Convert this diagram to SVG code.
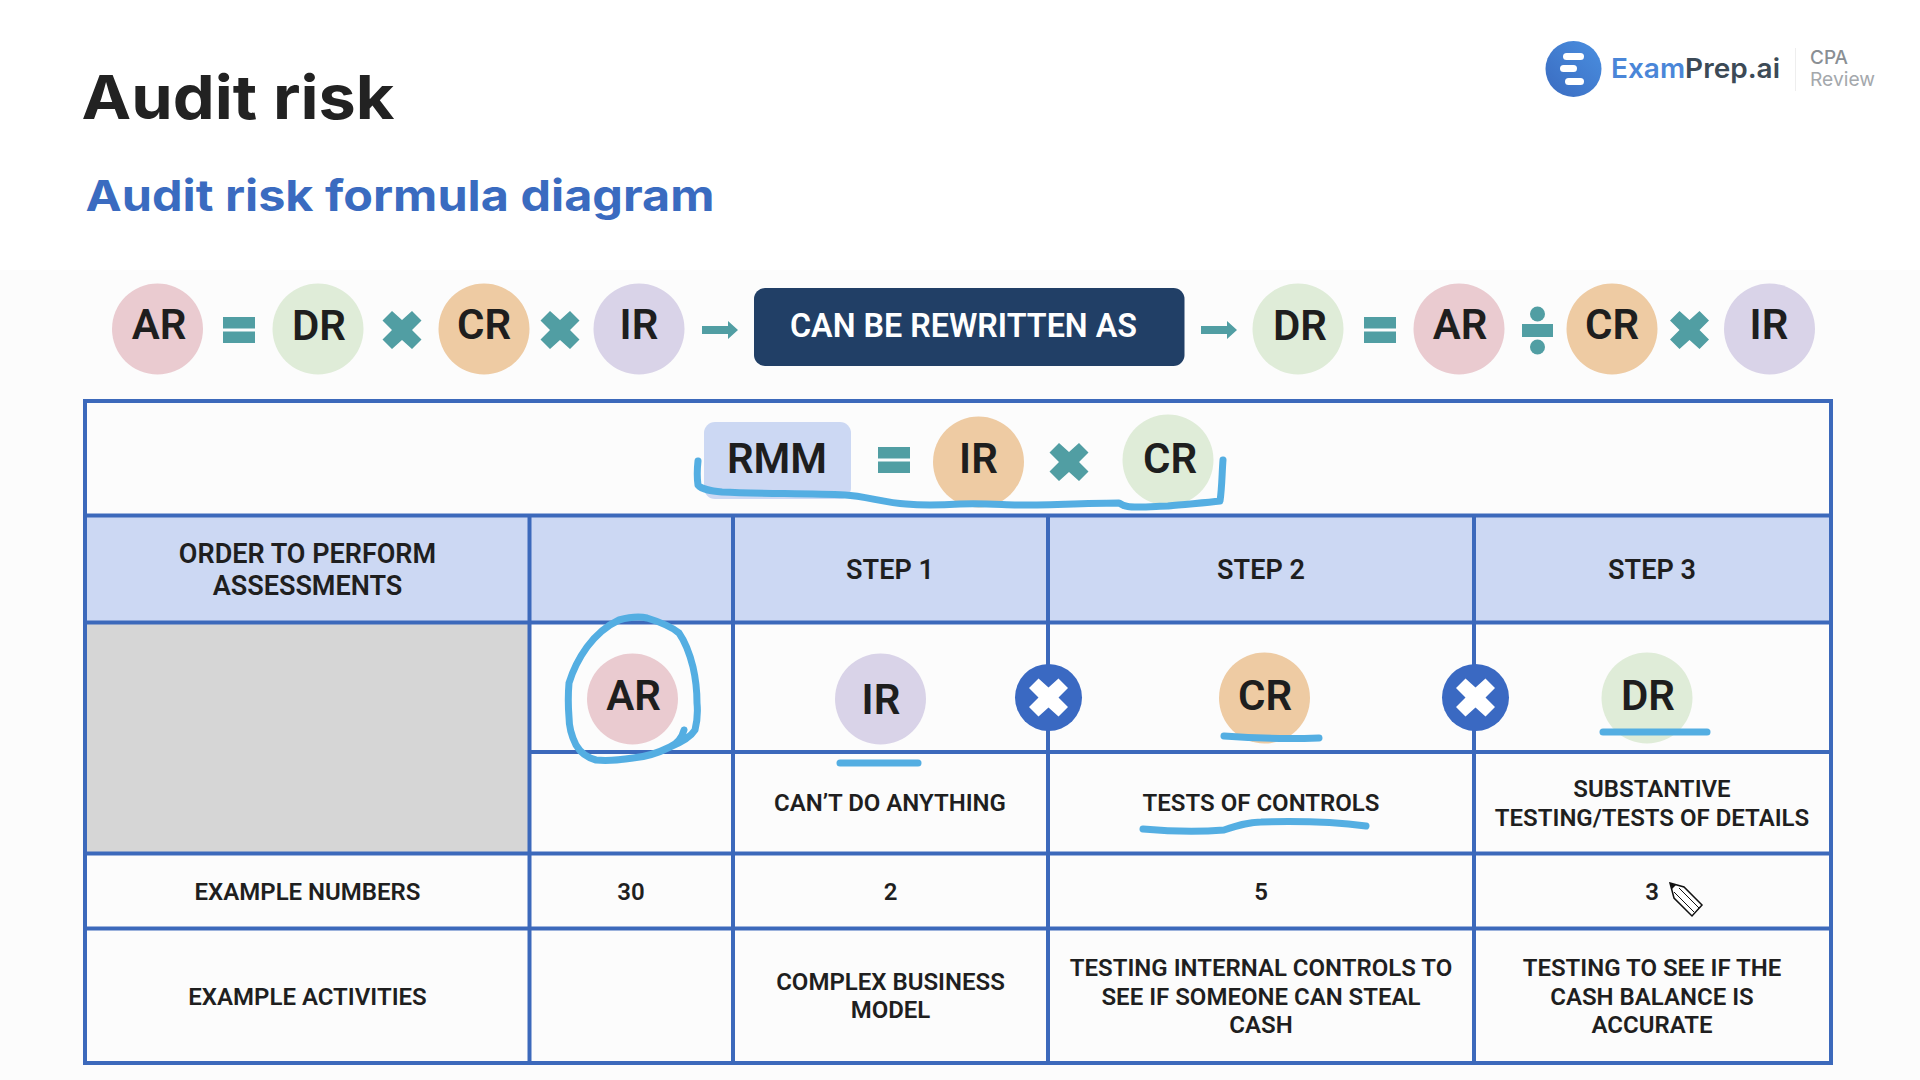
<svg xmlns="http://www.w3.org/2000/svg" width="1920" height="1080" viewBox="0 0 1920 1080">
<defs>
<style>
.t{font-family:Roboto,"Liberation Sans",sans-serif;font-weight:600;fill:#1f1f1f;text-anchor:middle}
.c{font-size:24px}
.h{font-size:27px}
.b{font-size:42px;fill:#1e1e1e;font-weight:600}
.grid{stroke:#3c69bb;stroke-width:4;fill:none}
.ink{stroke:#54aee2;stroke-width:7;fill:none;stroke-linecap:round;stroke-linejoin:round}
.teal{fill:#519ea3}
.ar{fill:#eacbd0}.dr{fill:#dfecd8}.cr{fill:#eecba3}.ir{fill:#d9d3e8}
</style>
<linearGradient id="lg" x1="0" y1="1" x2="1" y2="0"><stop offset="0" stop-color="#3a6bc0"/><stop offset="1" stop-color="#4a8fe0"/></linearGradient>
<path id="x" d="M-19.500-9.500-10-19 0-10 10-19 19.500-9.500 10 0 19.500 9.500 10 19 0 10-10 19-19.500 9.500-10 0Z"/>
<g id="eq"><rect x="-16" y="-12" width="32" height="11.500"/><rect x="-16" y="2.500" width="32" height="11.500"/></g>
<path id="arr" d="M-18-4H8V-9L18 0 8 9V4H-18Z"/>
</defs>
<rect width="1920" height="1080" fill="#fff"/>
<rect y="270" width="1920" height="810" fill="#fcfcfc"/>
<g id="title">
<text x="81.500" y="119" font-family="Inter,sans-serif" font-weight="700" font-size="61" fill="#222" textLength="313" lengthAdjust="spacingAndGlyphs">Audit risk</text>
<text x="85.500" y="211" font-family="Inter,sans-serif" font-weight="700" font-size="43" fill="#3a6bc0" textLength="629" lengthAdjust="spacingAndGlyphs">Audit risk formula diagram</text>
</g>
<g id="logo">
<ellipse cx="1573.500" cy="69" rx="28" ry="28" fill="url(#lg)"/>
<rect x="1563" y="53" width="21" height="7" rx="3.500" fill="#fff"/>
<rect x="1560" y="65" width="17" height="7" rx="3.500" fill="#fff"/>
<rect x="1565" y="78" width="19" height="7" rx="3.500" fill="#fff"/>
<text x="1611" y="78" font-family="Inter,sans-serif" font-weight="600" font-size="27" textLength="169" lengthAdjust="spacingAndGlyphs"><tspan fill="#4a86d8">Exam</tspan><tspan fill="#3c4a56">Prep.ai</tspan></text>
<rect x="1795" y="48" width="1" height="43" fill="#eee"/>
<text x="1810" y="64" font-family="Inter,sans-serif" font-size="19" font-weight="500" fill="#8a8f94" textLength="38" lengthAdjust="spacingAndGlyphs">CPA</text>
<text x="1810" y="86" font-family="Inter,sans-serif" font-size="19" fill="#a4a8ac" textLength="65" lengthAdjust="spacingAndGlyphs">Review</text>
</g>
<g id="formula-top">
<g id="n-ar1"><circle class="ar" cx="157.500" cy="329" r="45.500"/><text class="t b" x="159" y="339">AR</text></g>
<use href="#eq" x="239" y="329" class="teal"/>
<g id="n-dr1"><circle class="dr" cx="318" cy="329" r="45.500"/><text class="t b" x="319" y="340">DR</text></g>
<use href="#x" x="402" y="330" class="teal"/>
<g id="n-cr1"><circle class="cr" cx="484" cy="329" r="45.500"/><text class="t b" x="484" y="339">CR</text></g>
<use href="#x" x="560" y="330" class="teal"/>
<g id="n-ir1"><circle class="ir" cx="639" cy="329" r="45.500"/><text class="t b" x="639" y="339">IR</text></g>
<use href="#arr" x="720" y="330" class="teal"/>
<g id="n-rewrite"><rect x="754" y="288" width="430.500" height="78" rx="11" fill="#213f66"/><text class="t" x="963.500" y="337" font-size="33" textLength="347" lengthAdjust="spacingAndGlyphs" style="fill:#fff">CAN BE REWRITTEN AS</text></g>
<use href="#arr" x="1219" y="330" class="teal"/>
<g id="n-dr2"><circle class="dr" cx="1298" cy="329" r="45.500"/><text class="t b" x="1300" y="340">DR</text></g>
<use href="#eq" x="1380" y="329" class="teal"/>
<g id="n-ar2"><circle class="ar" cx="1459" cy="329" r="45.500"/><text class="t b" x="1460" y="339">AR</text></g>
<g id="divide" class="teal"><rect x="1522" y="324" width="31" height="13"/><circle cx="1537.500" cy="314" r="7.500"/><circle cx="1537.500" cy="347" r="7.500"/></g>
<g id="n-cr2"><circle class="cr" cx="1612" cy="329" r="45.500"/><text class="t b" x="1612" y="339">CR</text></g>
<use href="#x" x="1689.500" y="330" class="teal"/>
<g id="n-ir2"><circle class="ir" cx="1769.500" cy="329" r="45.500"/><text class="t b" x="1769" y="339">IR</text></g>
</g>
<g id="table">
<rect x="85" y="515" width="1746" height="108" fill="#ccd8f3"/>
<rect x="85" y="622" width="444" height="231" fill="#d6d6d6"/>
<path class="grid" d="M85 401H1831V1063H85ZM85 515.500H1831M85 622.500H1831M529 752H1831M85 853.500H1831M85 928.500H1831M529.500 515.500V1063M733 515.500V1063M1048 515.500V1063M1474 515.500V1063"/>
</g>
<g id="rmm-row">
<g id="n-rmm"><rect x="704" y="422" width="147" height="77" rx="11" fill="#ccd8f3"/><text class="t b" x="777" y="473">RMM</text></g>
<use href="#eq" x="894" y="459" class="teal"/>
<g id="n-ir3"><circle class="cr" cx="978.500" cy="462" r="45.500"/><text class="t b" x="978.500" y="473">IR</text></g>
<use href="#x" x="1069" y="462" class="teal"/>
<g id="n-cr3"><circle class="dr" cx="1168" cy="460" r="45.500"/><text class="t b" x="1170" y="473">CR</text></g>
</g>
<g id="step-row">
<g id="n-ar4"><circle class="ar" cx="632.500" cy="699" r="45.500"/><text class="t b" x="633.500" y="710">AR</text></g>
<g id="n-ir4"><circle class="ir" cx="880.500" cy="699" r="45.500"/><text class="t b" x="881" y="714">IR</text></g>
<g id="n-x1"><circle cx="1048.500" cy="697.500" r="33.500" fill="#3a69c2"/><use href="#x" x="1048.500" y="697.500" fill="#fff"/></g>
<g id="n-cr4"><circle class="cr" cx="1264.500" cy="698" r="45.500"/><text class="t b" x="1265" y="710">CR</text></g>
<g id="n-x2"><circle cx="1475.500" cy="697.500" r="33.500" fill="#3a69c2"/><use href="#x" x="1475.500" y="697.500" fill="#fff"/></g>
<g id="n-dr4"><circle class="dr" cx="1647" cy="698" r="45.500"/><text class="t b" x="1648" y="710">DR</text></g>
</g>
<g id="cells" class="cells">
<text class="t h" x="307.500" y="563">ORDER TO PERFORM</text>
<text class="t h" x="307.500" y="595">ASSESSMENTS</text>
<text class="t h" x="890" y="579">STEP 1</text>
<text class="t h" x="1261" y="579">STEP 2</text>
<text class="t h" x="1652" y="579">STEP 3</text>
<text class="t c" x="890" y="811">CAN’T DO ANYTHING</text>
<text class="t c" x="1261" y="811">TESTS OF CONTROLS</text>
<text class="t c" x="1652" y="797">SUBSTANTIVE</text>
<text class="t c" x="1652" y="825.500">TESTING/TESTS OF DETAILS</text>
<text class="t c" x="307.500" y="900">EXAMPLE NUMBERS</text>
<text class="t c" x="631" y="900">30</text>
<text class="t c" x="890.500" y="900">2</text>
<text class="t c" x="1261" y="900">5</text>
<text class="t c" x="1652" y="900">3</text>
<text class="t c" x="307.500" y="1005">EXAMPLE ACTIVITIES</text>
<text class="t c" x="890.500" y="989.500">COMPLEX BUSINESS</text>
<text class="t c" x="890.500" y="1018">MODEL</text>
<text class="t c" x="1261" y="976">TESTING INTERNAL CONTROLS TO</text>
<text class="t c" x="1261" y="1005">SEE IF SOMEONE CAN STEAL</text>
<text class="t c" x="1261" y="1033">CASH</text>
<text class="t c" x="1652" y="976">TESTING TO SEE IF THE</text>
<text class="t c" x="1652" y="1005">CASH BALANCE IS</text>
<text class="t c" x="1652" y="1033">ACCURATE</text>
</g>
<g id="connectors">
<path class="ink" d="M698 461C697 470 697 478 698 485C702 490 712 491 722 492C760 494 810 493 845 495C865 496 885 503 906 504C925 506 945 505 960 504C985 503 1005 505 1021 505C1055 505 1090 503 1119 503C1125 507 1130 507 1138 507C1150 507 1160 506 1168 506C1185 504 1205 503 1220 501C1222 488 1222 472 1223 460"/>
<path class="ink" d="M684 730C682 738 676 744 670 747C658 753 645 757 633 758C620 760 607 761 596 760C585 757 580 752 576 745C571 735 569 727 569 717C568 705 568 695 569 683C573 670 579 658 587 647C596 635 606 626 619 620C630 617 638 616 647 618C660 622 671 626 679 633C686 643 690 655 693 667C696 680 697 692 697 703C698 713 697 722 695 730C690 738 680 743 670 747"/>
<path class="ink" d="M840 763H918"/>
<path class="ink" d="M1224 736C1250 738 1290 739 1319 738"/>
<path class="ink" d="M1603 732H1707"/>
<path class="ink" d="M1143 829C1165 831 1200 832 1224 830C1236 826 1248 822 1261 822C1295 821 1335 822 1366 826"/>
</g>
<g id="cursor"><path d="M1670 883 1684 887 1702 905 1692 916 1674 898Z" fill="#fff" stroke="#111" stroke-width="1.500"/><path d="M1670 883 1676 885 1672 889Z" fill="#111"/><path d="M1674 892 1694 912M1679 888 1699 908" fill="none" stroke="#111" stroke-width="1"/></g>
</svg>
